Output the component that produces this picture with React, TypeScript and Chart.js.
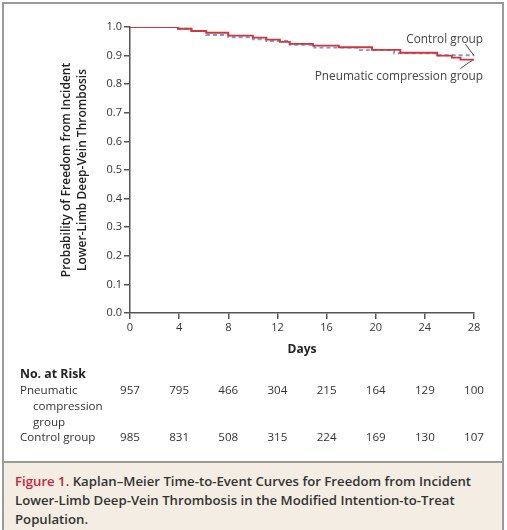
import { Chart, registerables, type ChartConfiguration, type Plugin } from "chart.js";
import { useEffect, useRef } from "react";

Chart.register(...registerables);

// x axis ticks and number-at-risk table
const riskDays = [0, 4, 8, 12, 16, 20, 24, 28];
const pneumaticAtRisk = [957, 795, 466, 304, 215, 164, 129, 100];
const controlAtRisk = [985, 831, 508, 315, 224, 169, 130, 107];

// Kaplan-Meier step points (day, survival)
const pneumaticTimes = [0, 3.9, 5, 6.2, 8, 10, 11.1, 12.2, 13, 14.9, 17, 19.7, 22, 25, 26.2, 26.9, 28];
const pneumaticSurv = [1.0, 0.994, 0.986, 0.98, 0.97, 0.963, 0.956, 0.948, 0.941, 0.935, 0.929, 0.92, 0.91, 0.9, 0.893, 0.886, 0.886];
const controlTimes = [0, 3.9, 5, 6.2, 8, 10, 11.1, 13, 15, 18.5, 21.5, 25, 28];
const controlSurv = [1.0, 0.994, 0.986, 0.972, 0.964, 0.957, 0.951, 0.938, 0.928, 0.919, 0.908, 0.901, 0.901];

const FONT = "'Open Sans', 'Noto Sans', sans-serif";
const TEXT = "#333";

const toPoints = (xs: number[], ys: number[]) => xs.map((x, i) => ({ x, y: ys[i] }));

const overlayPlugin: Plugin<"line"> = {
  id: "overlay",
  afterDraw(chart) {
    const { ctx } = chart;
    const x = chart.scales.x;
    const y = chart.scales.y;
    ctx.save();

    // curve labels with leader lines
    ctx.fillStyle = "#444";
    ctx.strokeStyle = "#444";
    ctx.lineWidth = 1;
    ctx.font = `11.8px ${FONT}`;
    ctx.textAlign = "right";
    ctx.textBaseline = "middle";
    const right = x.getPixelForValue(28) + 9;
    ctx.fillText("Control group", right, y.getPixelForValue(0.957));
    ctx.fillText("Pneumatic compression group", right, y.getPixelForValue(0.825));
    ctx.beginPath();
    ctx.moveTo(x.getPixelForValue(27.3), y.getPixelForValue(0.94));
    ctx.lineTo(x.getPixelForValue(28), y.getPixelForValue(0.9));
    ctx.moveTo(x.getPixelForValue(26.9), y.getPixelForValue(0.855));
    ctx.lineTo(x.getPixelForValue(27.9), y.getPixelForValue(0.885));
    ctx.stroke();

    // number at risk table
    const left = 20;
    ctx.textAlign = "left";
    ctx.fillStyle = "#222";
    ctx.font = `bold 12.3px ${FONT}`;
    ctx.fillText("No. at Risk", left, 374);
    ctx.fillStyle = TEXT;
    ctx.font = `11.6px ${FONT}`;
    ctx.fillText("Pneumatic", left, 391);
    ctx.fillText("compression", left + 13, 407);
    ctx.fillText("group", left + 13, 423);
    ctx.fillText("Control group", left, 438);
    ctx.textAlign = "center";
    riskDays.forEach((d, i) => {
      const px = x.getPixelForValue(d);
      ctx.fillText(String(pneumaticAtRisk[i]), px, 391);
      ctx.fillText(String(controlAtRisk[i]), px, 438);
    });
    ctx.restore();
  }
};

export default function App() {
  const canvasRef = useRef<HTMLCanvasElement | null>(null);

  useEffect(() => {
    if (!canvasRef.current) {
      return;
    }
    const axisColor = "#555";
    const config: ChartConfiguration<"line"> = {
      type: "line",
      data: {
        datasets: [
          {
            label: "Pneumatic compression group",
            data: toPoints(pneumaticTimes, pneumaticSurv),
            borderColor: "#d6343b",
            borderWidth: 1.9,
            stepped: "before",
            pointRadius: 0
          },
          {
            label: "Control group",
            data: toPoints(controlTimes, controlSurv),
            borderColor: "#7b9bd6",
            borderWidth: 1.9,
            borderDash: [4, 3],
            stepped: "before",
            pointRadius: 0
          }
        ]
      },
      options: {
        responsive: false,
        animation: false,
        layout: { padding: { left: 0, top: 27, right: 33, bottom: 0 } },
        plugins: {
          legend: { display: false },
          tooltip: { enabled: false }
        },
        scales: {
          x: {
            type: "linear",
            min: 0,
            max: 28,
            afterFit: (scale) => {
              scale.height = 147;
            },
            border: { color: axisColor, width: 1.5 },
            grid: { drawOnChartArea: false, drawTicks: true, tickLength: 6, color: axisColor, lineWidth: 1.5 },
            ticks: {
              stepSize: 4,
              color: TEXT,
              font: { family: FONT, size: 11 },
              padding: 2,
              maxRotation: 0
            },
            title: {
              display: true,
              text: "Days",
              color: "#222",
              font: { family: FONT, size: 12, weight: "bold" },
              padding: { top: 0, bottom: 103 }
            }
          },
          y: {
            min: 0,
            max: 1,
            afterFit: (scale) => {
              scale.width = 130;
            },
            border: { color: axisColor, width: 1.5 },
            grid: { drawOnChartArea: false, drawTicks: true, tickLength: 6, color: axisColor, lineWidth: 1.5 },
            ticks: {
              stepSize: 0.1,
              color: TEXT,
              font: { family: FONT, size: 11 },
              padding: 2,
              callback: (v) => Number(v).toFixed(1)
            },
            title: {
              display: true,
              text: ["Probability of Freedom from Incident", "Lower-Limb Deep-Vein Thrombosis"],
              color: "#222",
              font: { family: FONT, size: 12, weight: 600, lineHeight: 1.35 },
              padding: { top: 58, bottom: 0 }
            }
          }
        }
      },
      plugins: [overlayPlugin]
    };
    const chart = new Chart(canvasRef.current, config);
    return () => chart.destroy();
  }, []);

  return (
    <div
      style={{
        position: "fixed",
        left: 0,
        top: 0,
        width: 507,
        height: 530,
        overflow: "hidden",
        background: "#fff"
      }}
    >
      <div
        style={{
          position: "absolute",
          left: 2,
          top: 2,
          width: 498,
          height: 560,
          border: "2px solid #9a9a9a"
        }}
      />
      <canvas ref={canvasRef} width={507} height={460} style={{ position: "absolute", left: 0, top: 0 }} />
      <div
        style={{
          position: "absolute",
          left: 2,
          top: 461,
          width: 487,
          height: 80,
          padding: "9px 0 0 11px",
          background: "#f3ede4",
          borderTop: "2px solid #9a9a9a",
          borderLeft: "2px solid #9a9a9a",
          borderRight: "2px solid #9a9a9a",
          fontFamily: FONT,
          fontSize: 13.2,
          fontWeight: 600,
          lineHeight: "19px",
          color: "#333",
          whiteSpace: "nowrap"
        }}
      >
        <span style={{ color: "#cc1f36" }}>Figure 1.</span> Kaplan–Meier Time-to-Event Curves for Freedom from Incident
        <br />
        Lower-Limb Deep-Vein Thrombosis in the Modified Intention-to-Treat
        <br />
        Population.
      </div>
    </div>
  );
}
